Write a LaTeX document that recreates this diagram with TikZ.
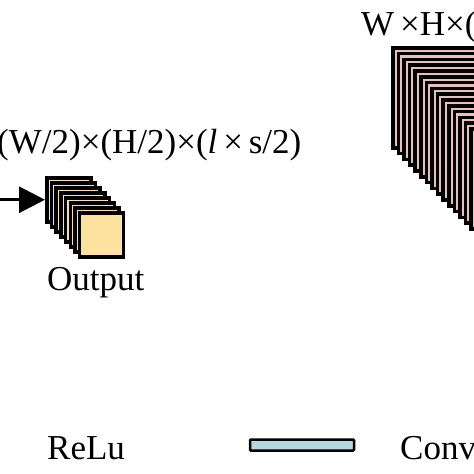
\documentclass[tikz,border=0pt]{standalone}
\usepackage{fontspec}
\setmainfont{Liberation Serif}
\usetikzlibrary{arrows.meta}
\usetikzlibrary{positioning}

\definecolor{outfill}{RGB}{252,226,158}
\definecolor{featfill}{RGB}{233,191,190}
\definecolor{convfill}{RGB}{178,216,228}

\begin{document}
\begin{tikzpicture}[x=1pt,y=-1pt,
  every node/.style={font=\fontsize{35}{40}\selectfont,inner sep=0pt},
  outbox/.style={draw,line width=3.5pt,fill=outfill,minimum size=44pt,anchor=north west},
  featbox/.style={draw,line width=3.5pt,fill=featfill,minimum width=130pt,minimum height=100pt,anchor=north west}]
  \useasboundingbox (0,0) rectangle (474,474);
  \clip (0,0) rectangle (474,474);
  % feature stack on the right
  \foreach \i in {1,...,16}
    \node[featbox] (f\i) at ({391+5.6*(\i-1)},{46+5.8*(\i-1)}){};
  \node[anchor=base west] (fsize) at (361,35) {W\,×H×(};
  % output stack
  \foreach \i in {1,...,8}
    \node[outbox] (o\i) at ({45+4.7*(\i-1)},{176+5*(\i-1)}){};
  \coordinate (in) at (-2,0 |- o1.west);
  \draw[line width=3pt,-{Triangle[length=26pt,width=26pt]}](in)--(o1.west);
  \node[anchor=base west] (osize) at (-3,153) {(W/2)×(H/2)×(\textit{l}\,×\,s/2)};
  \node[anchor=base west] (olab) at (47,290) {Output};
  % legend
  \node[anchor=base west] (relu) at (47,459) {ReLu};
  \node[draw,line width=2.5pt,fill=convfill,rounded corners=1pt,minimum width=104pt,minimum height=11pt] (convbar) at (302,445){};
  \node[anchor=base west] (conv) at (400,459) {Conv};
\end{tikzpicture}
\end{document}
